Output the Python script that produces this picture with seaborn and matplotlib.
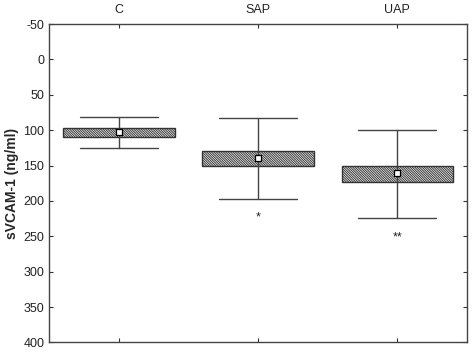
import matplotlib
matplotlib.use("Agg")
import matplotlib.pyplot as plt
import seaborn as sns
import pandas as pd

# Valores (media, ±EE caja, ±DE bigotes)
groups = ["C", "SAP", "UAP"]
means = [103, 140, 161]
box_lo = [97.5, 130, 150.5]
box_hi = [109.5, 150, 173.5]
whisk_lo = [81, 83, 99.5]
whisk_hi = [125.5, 198, 223.5]
stars = ["", "*", "**"]
star_y = [None, 224, 252]
yticks = [-50, 0, 50, 100, 150, 200, 250, 300, 350, 400]

sns.set_style("ticks")
plt.rcParams["font.family"] = ["Liberation Sans", "DejaVu Sans"]
plt.rcParams["hatch.color"] = "#444444"
plt.rcParams["hatch.linewidth"] = 0.7

fig, ax = plt.subplots(figsize=(4.74, 3.53), dpi=100)
fig.subplots_adjust(left=0.104, right=0.985, top=0.932, bottom=0.03)

# Cajas con estadísticas ya calculadas
stats = []
for i, g in enumerate(groups):
    stats.append({"label": g, "med": means[i], "q1": box_lo[i], "q3": box_hi[i],
                  "whislo": whisk_lo[i], "whishi": whisk_hi[i], "fliers": []})
bp = ax.bxp(stats, positions=range(len(groups)), widths=0.8, patch_artist=True,
            showfliers=False, showcaps=True,
            boxprops=dict(facecolor="white", edgecolor="#333333", linewidth=1.0, hatch="\\" * 14),
            whiskerprops=dict(color="#444444", linewidth=1.0),
            capprops=dict(color="#444444", linewidth=1.0),
            medianprops=dict(linewidth=0))
for cap in bp["caps"]:
    x = cap.get_xdata()
    c = (x[0] + x[1]) / 2
    cap.set_xdata([c - 0.28, c + 0.28])

# Línea del bigote a través de la caja
ax.vlines(range(len(groups)), box_lo, box_hi, color="#444444", linewidth=1.0, zorder=2.5)

# Medias
df = pd.DataFrame({"grupo": range(len(groups)), "media": means})
sns.scatterplot(data=df, x="grupo", y="media", marker="s", s=22, color="white",
                edgecolor="black", linewidth=0.9, zorder=4, ax=ax, legend=False)

for i, s in enumerate(stars):
    if s:
        ax.text(i, star_y[i], s, ha="center", va="center", fontsize=9, color="#222222")

ax.set_xlim(-0.5, 2.5)
ax.set_ylim(400, -50)
ax.set_yticks(yticks)
ax.set_yticklabels([str(v) for v in yticks])
ax.set_xticks(range(len(groups)))
ax.set_xticklabels(groups)
ax.xaxis.tick_top()
ax.tick_params(axis="both", direction="in", length=3, width=0.8, labelsize=9,
               colors="#333333", labelcolor="#222222", top=True, bottom=True,
               left=True, right=True)
ax.tick_params(axis="x", pad=6)
for sp in ax.spines.values():
    sp.set_color("#444444")
    sp.set_linewidth(1.0)
ax.set_xlabel("")
ax.set_ylabel("sVCAM-1 (ng/ml)", fontsize=10, fontweight="bold", labelpad=3)

fig.savefig("out.png", dpi=100)
